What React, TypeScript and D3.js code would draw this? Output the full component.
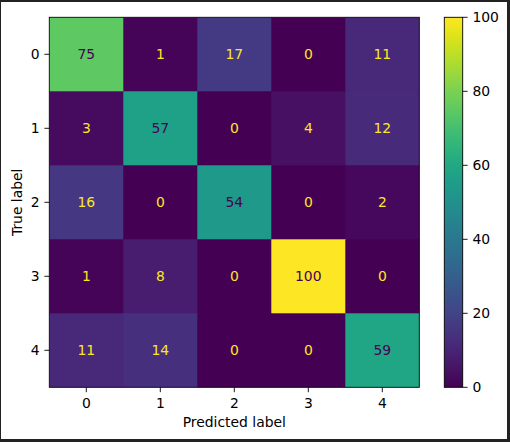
import React from "react";
import * as d3 from "d3";

const classes = ["0", "1", "2", "3", "4"];
const matrix: number[][] = [
  [75, 1, 17, 0, 11],
  [3, 57, 0, 4, 12],
  [16, 0, 54, 0, 2],
  [1, 8, 0, 100, 0],
  [11, 14, 0, 0, 59],
];
const colorbarTicks = [0, 20, 40, 60, 80, 100];
const xLabel = "Predicted label";
const yLabel = "True label";

const W = 510;
const H = 442;
const left = 49.3;
const top = 17.3;
const size = 370;
const cbLeft = 444.3;
const cbWidth = 18.4;
const FONT = "DejaVu Sans, sans-serif";
const FS = 13.9;
const TICK = 4.9;
const PAD = 9.7;

export default function App() {
  const x = d3.scaleBand<string>().domain(classes).range([left, left + size]);
  const y = d3.scaleBand<string>().domain(classes).range([top, top + size]);
  const vmin = d3.min(matrix.flat()) as number;
  const vmax = d3.max(matrix.flat()) as number;
  const color = d3.scaleSequential(d3.interpolateViridis).domain([vmin, vmax]);
  const thresh = (vmin + vmax) / 2;
  const cbY = d3.scaleLinear().domain([vmin, vmax]).range([top + size, top]);
  const stops = d3.range(0, 1.0001, 0.05);

  return (
    <svg
      width={W}
      height={H}
      style={{ position: "fixed", left: 0, top: 0, background: "#fff" }}
      fontFamily={FONT}
    >
      <defs>
        <linearGradient id="cb" x1="0" y1="1" x2="0" y2="0">
          {stops.map((s) => (
            <stop key={s} offset={s} stopColor={d3.interpolateViridis(s)} />
          ))}
        </linearGradient>
        <clipPath id="mclip">
          <rect x={left} y={top} width={size} height={size} />
        </clipPath>
      </defs>
      <rect x={0} y={0} width={W} height={H} fill="#fff" />
      <g clipPath="url(#mclip)">
        {matrix.map((row, i) =>
          row.map((v, j) => (
            <rect
              key={`${i}-${j}`}
              x={x(classes[j])}
              y={y(classes[i])}
              width={x.bandwidth() + 1}
              height={y.bandwidth() + 1}
              fill={color(v)}
            />
          ))
        )}
      </g>
      {matrix.map((row, i) =>
        row.map((v, j) => (
          <text
            key={`t${i}-${j}`}
            x={(x(classes[j]) as number) + x.bandwidth() / 2}
            y={(y(classes[i]) as number) + y.bandwidth() / 2}
            textAnchor="middle"
            dominantBaseline="central"
            fontSize={FS}
            fill={v < thresh ? d3.interpolateViridis(1) : d3.interpolateViridis(0)}
          >
            {v}
          </text>
        ))
      )}
      <rect x={left} y={top} width={size} height={size} fill="none" stroke="#000" strokeWidth={0.9} />
      {classes.map((c) => {
        const cx = (x(c) as number) + x.bandwidth() / 2;
        return (
          <g key={`xt${c}`}>
            <line x1={cx} x2={cx} y1={top + size} y2={top + size + TICK} stroke="#000" strokeWidth={0.9} />
            <text x={cx} y={top + size + 15.8} textAnchor="middle" dominantBaseline="central" fontSize={FS} fill="#000">
              {c}
            </text>
          </g>
        );
      })}
      {classes.map((c) => {
        const cy = (y(c) as number) + y.bandwidth() / 2;
        return (
          <g key={`yt${c}`}>
            <line x1={left - TICK} x2={left} y1={cy} y2={cy} stroke="#000" strokeWidth={0.9} />
            <text x={left - PAD} y={cy} textAnchor="end" dominantBaseline="central" fontSize={FS} fill="#000">
              {c}
            </text>
          </g>
        );
      })}
      <text x={left + size / 2} y={421.5} textAnchor="middle" dominantBaseline="central" fontSize={FS} fill="#000">
        {xLabel}
      </text>
      <text
        transform={`translate(16.5,${top + size / 2}) rotate(-90)`}
        textAnchor="middle"
        dominantBaseline="central"
        fontSize={FS}
        fill="#000"
      >
        {yLabel}
      </text>
      <rect x={cbLeft} y={top} width={cbWidth} height={size} fill="url(#cb)" />
      <rect x={cbLeft} y={top} width={cbWidth} height={size} fill="none" stroke="#000" strokeWidth={0.9} />
      {colorbarTicks.map((t) => (
        <g key={`cb${t}`}>
          <line x1={cbLeft + cbWidth} x2={cbLeft + cbWidth + TICK} y1={cbY(t)} y2={cbY(t)} stroke="#000" strokeWidth={0.9} />
          <text x={cbLeft + cbWidth + PAD} y={cbY(t)} dominantBaseline="central" fontSize={FS} fill="#000">
            {t}
          </text>
        </g>
      ))}
      <rect x={0} y={0} width={W} height={2} fill="#222" />
      <rect x={0} y={0} width={1} height={H} fill="#222" />
      <rect x={W - 3} y={0} width={3} height={H} fill="#222" />
      <rect x={0} y={H - 3} width={W} height={3} fill="#222" />
    </svg>
  );
}
